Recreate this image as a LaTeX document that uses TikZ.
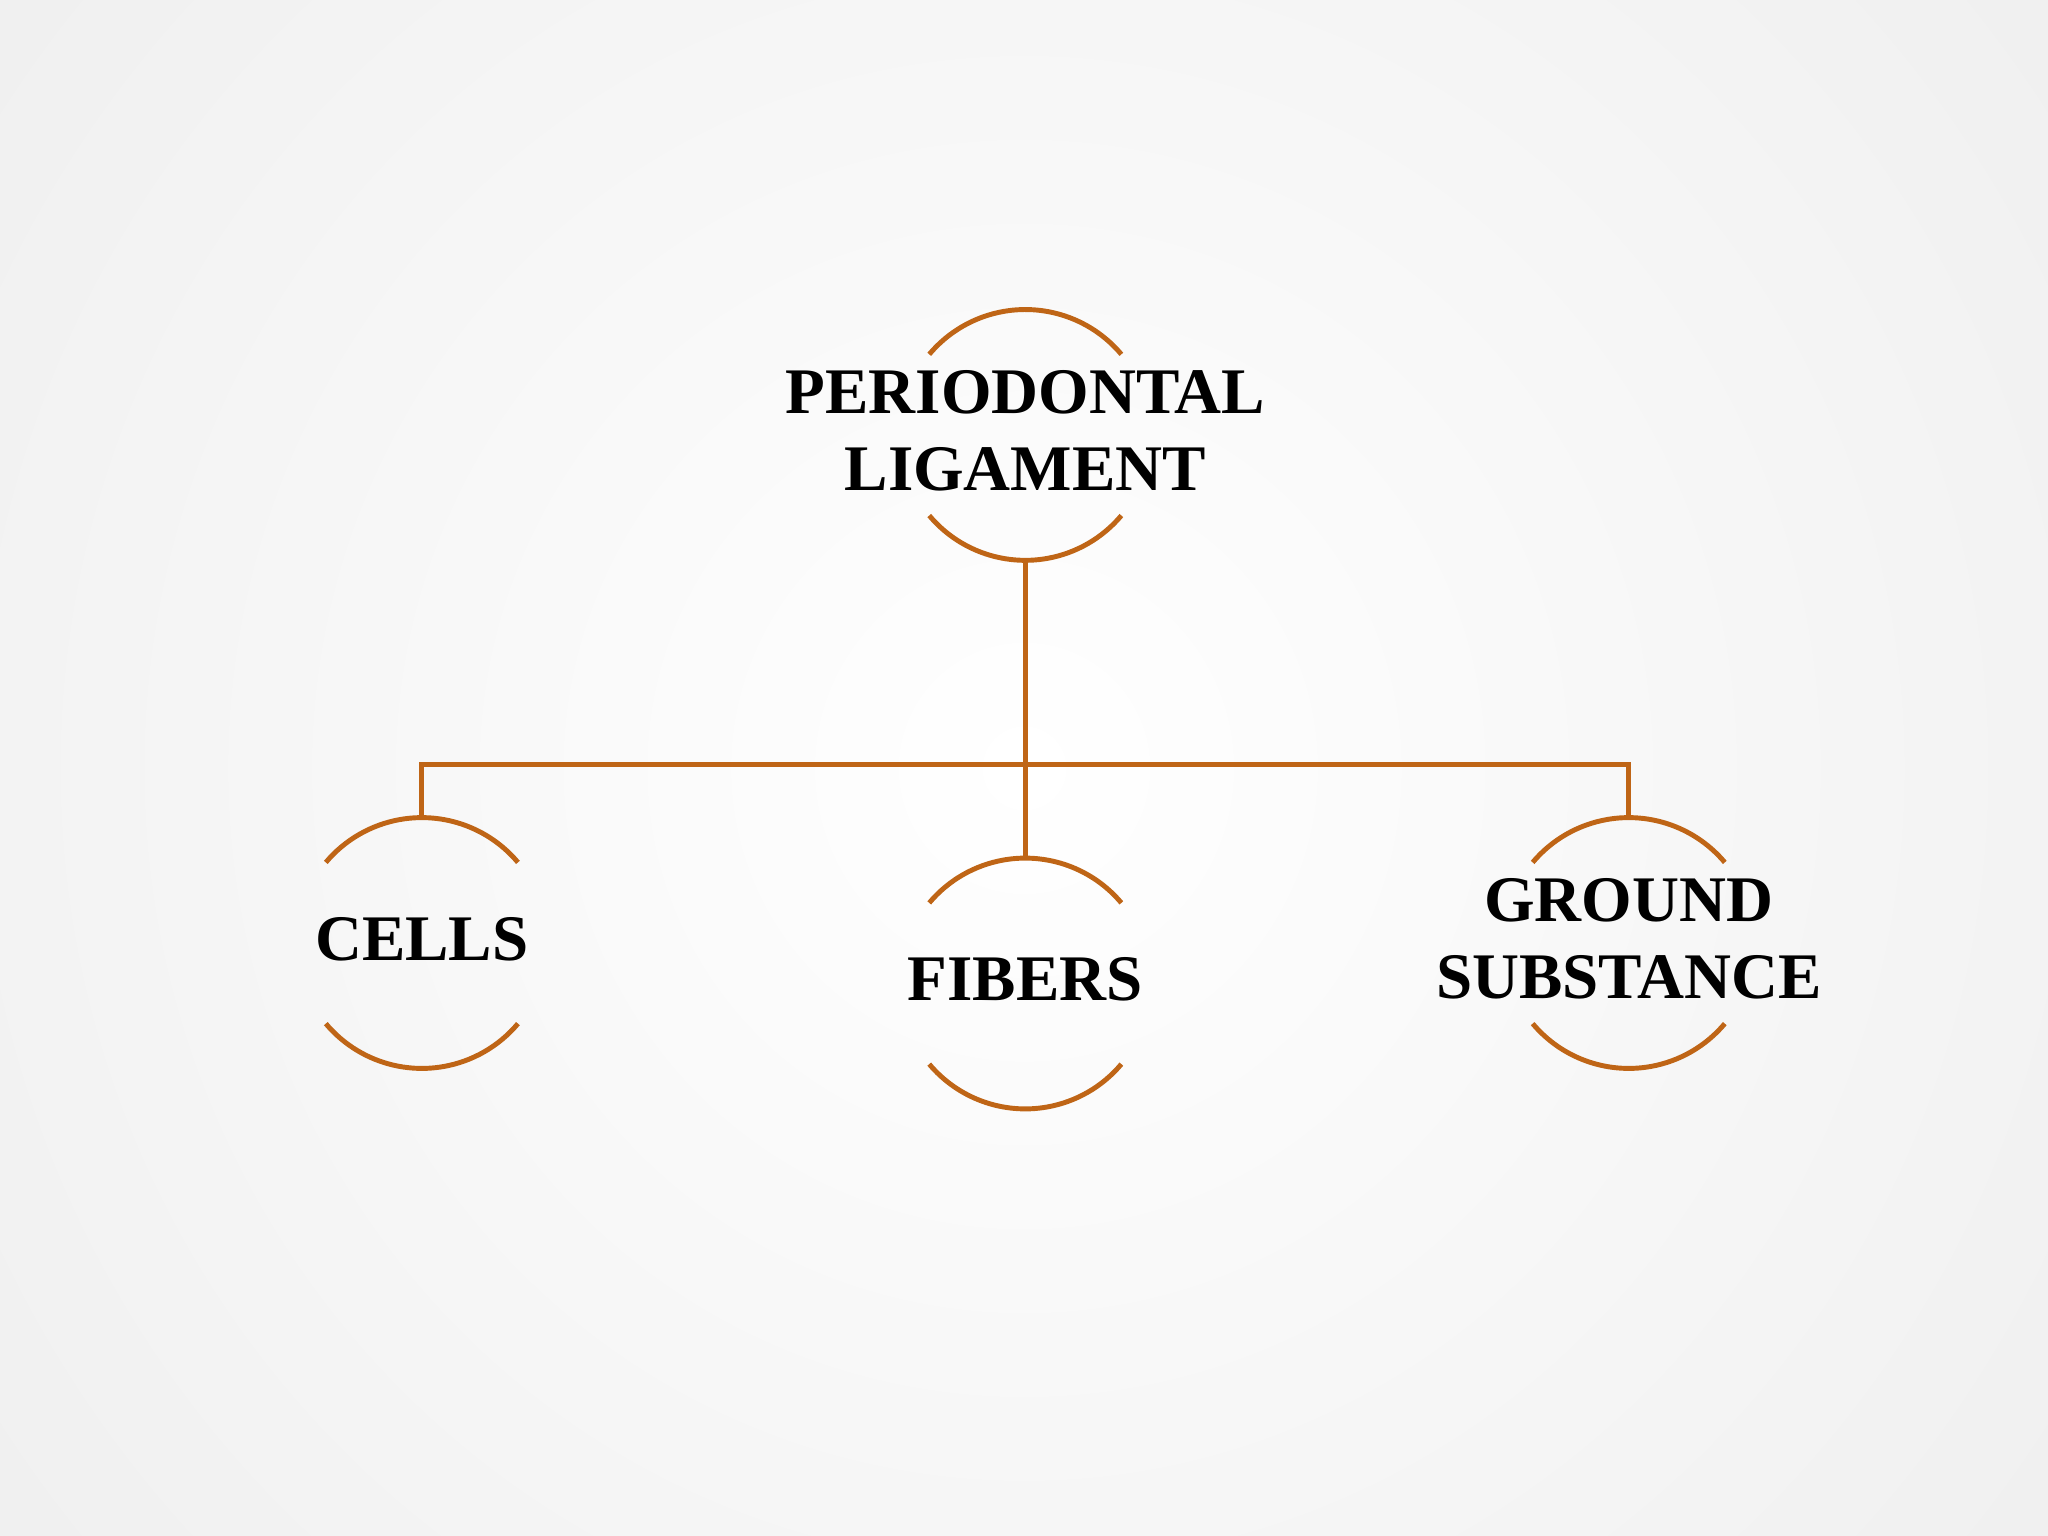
\documentclass[tikz,border=0pt]{standalone}
\usepackage{fontspec}
\setmainfont{Liberation Serif}
\definecolor{brn}{HTML}{BF6516}
\tikzset{
  lbl/.style={inner sep=0pt,font=\bfseries\fontsize{18.5}{22}\selectfont,align=center,text=black},
  ln/.style={draw=brn,line width=1.4pt}
}
\newcommand{\arcs}[1]{%
  \draw[ln] ([shift={(40:1.254cm)}]#1) arc (40:140:1.254cm);
  \draw[ln] ([shift={(220:1.254cm)}]#1) arc (220:320:1.254cm);}
\begin{document}
\begin{tikzpicture}[x=0.01306cm,y=-0.01306cm]
\useasboundingbox (0,0) rectangle (1568,1176);
\begin{scope}
\clip (0,0) rectangle (1568,1176);
\shade[inner color=white,outer color=black!11] (784,588) circle (1800);
\end{scope}
\node[lbl] (top) at (785,330) {PERIODONTAL\\LIGAMENT};
\node[lbl] (cells) at (323,719) {CELLS};
\node[lbl] (fib) at (785,750) {FIBERS};
\node[lbl] (gr) at (1247,719) {GROUND\\SUBSTANCE};
\coordinate (topc) at (785,333); \coordinate (topb) at (785,429);
\coordinate (cellc) at (323,722); \coordinate (cellt) at (323,626);
\coordinate (fibc) at (785,753); \coordinate (fibt) at (785,657);
\coordinate (grc) at (1247,722); \coordinate (grt) at (1247,626);
\arcs{topc}\arcs{cellc}\arcs{fibc}\arcs{grc}
\coordinate (j) at (785,585);
\draw[ln] (topb) -- (fibt);
\draw[ln] (cellt) |- (j) -| (grt);
\end{tikzpicture}
\end{document}
